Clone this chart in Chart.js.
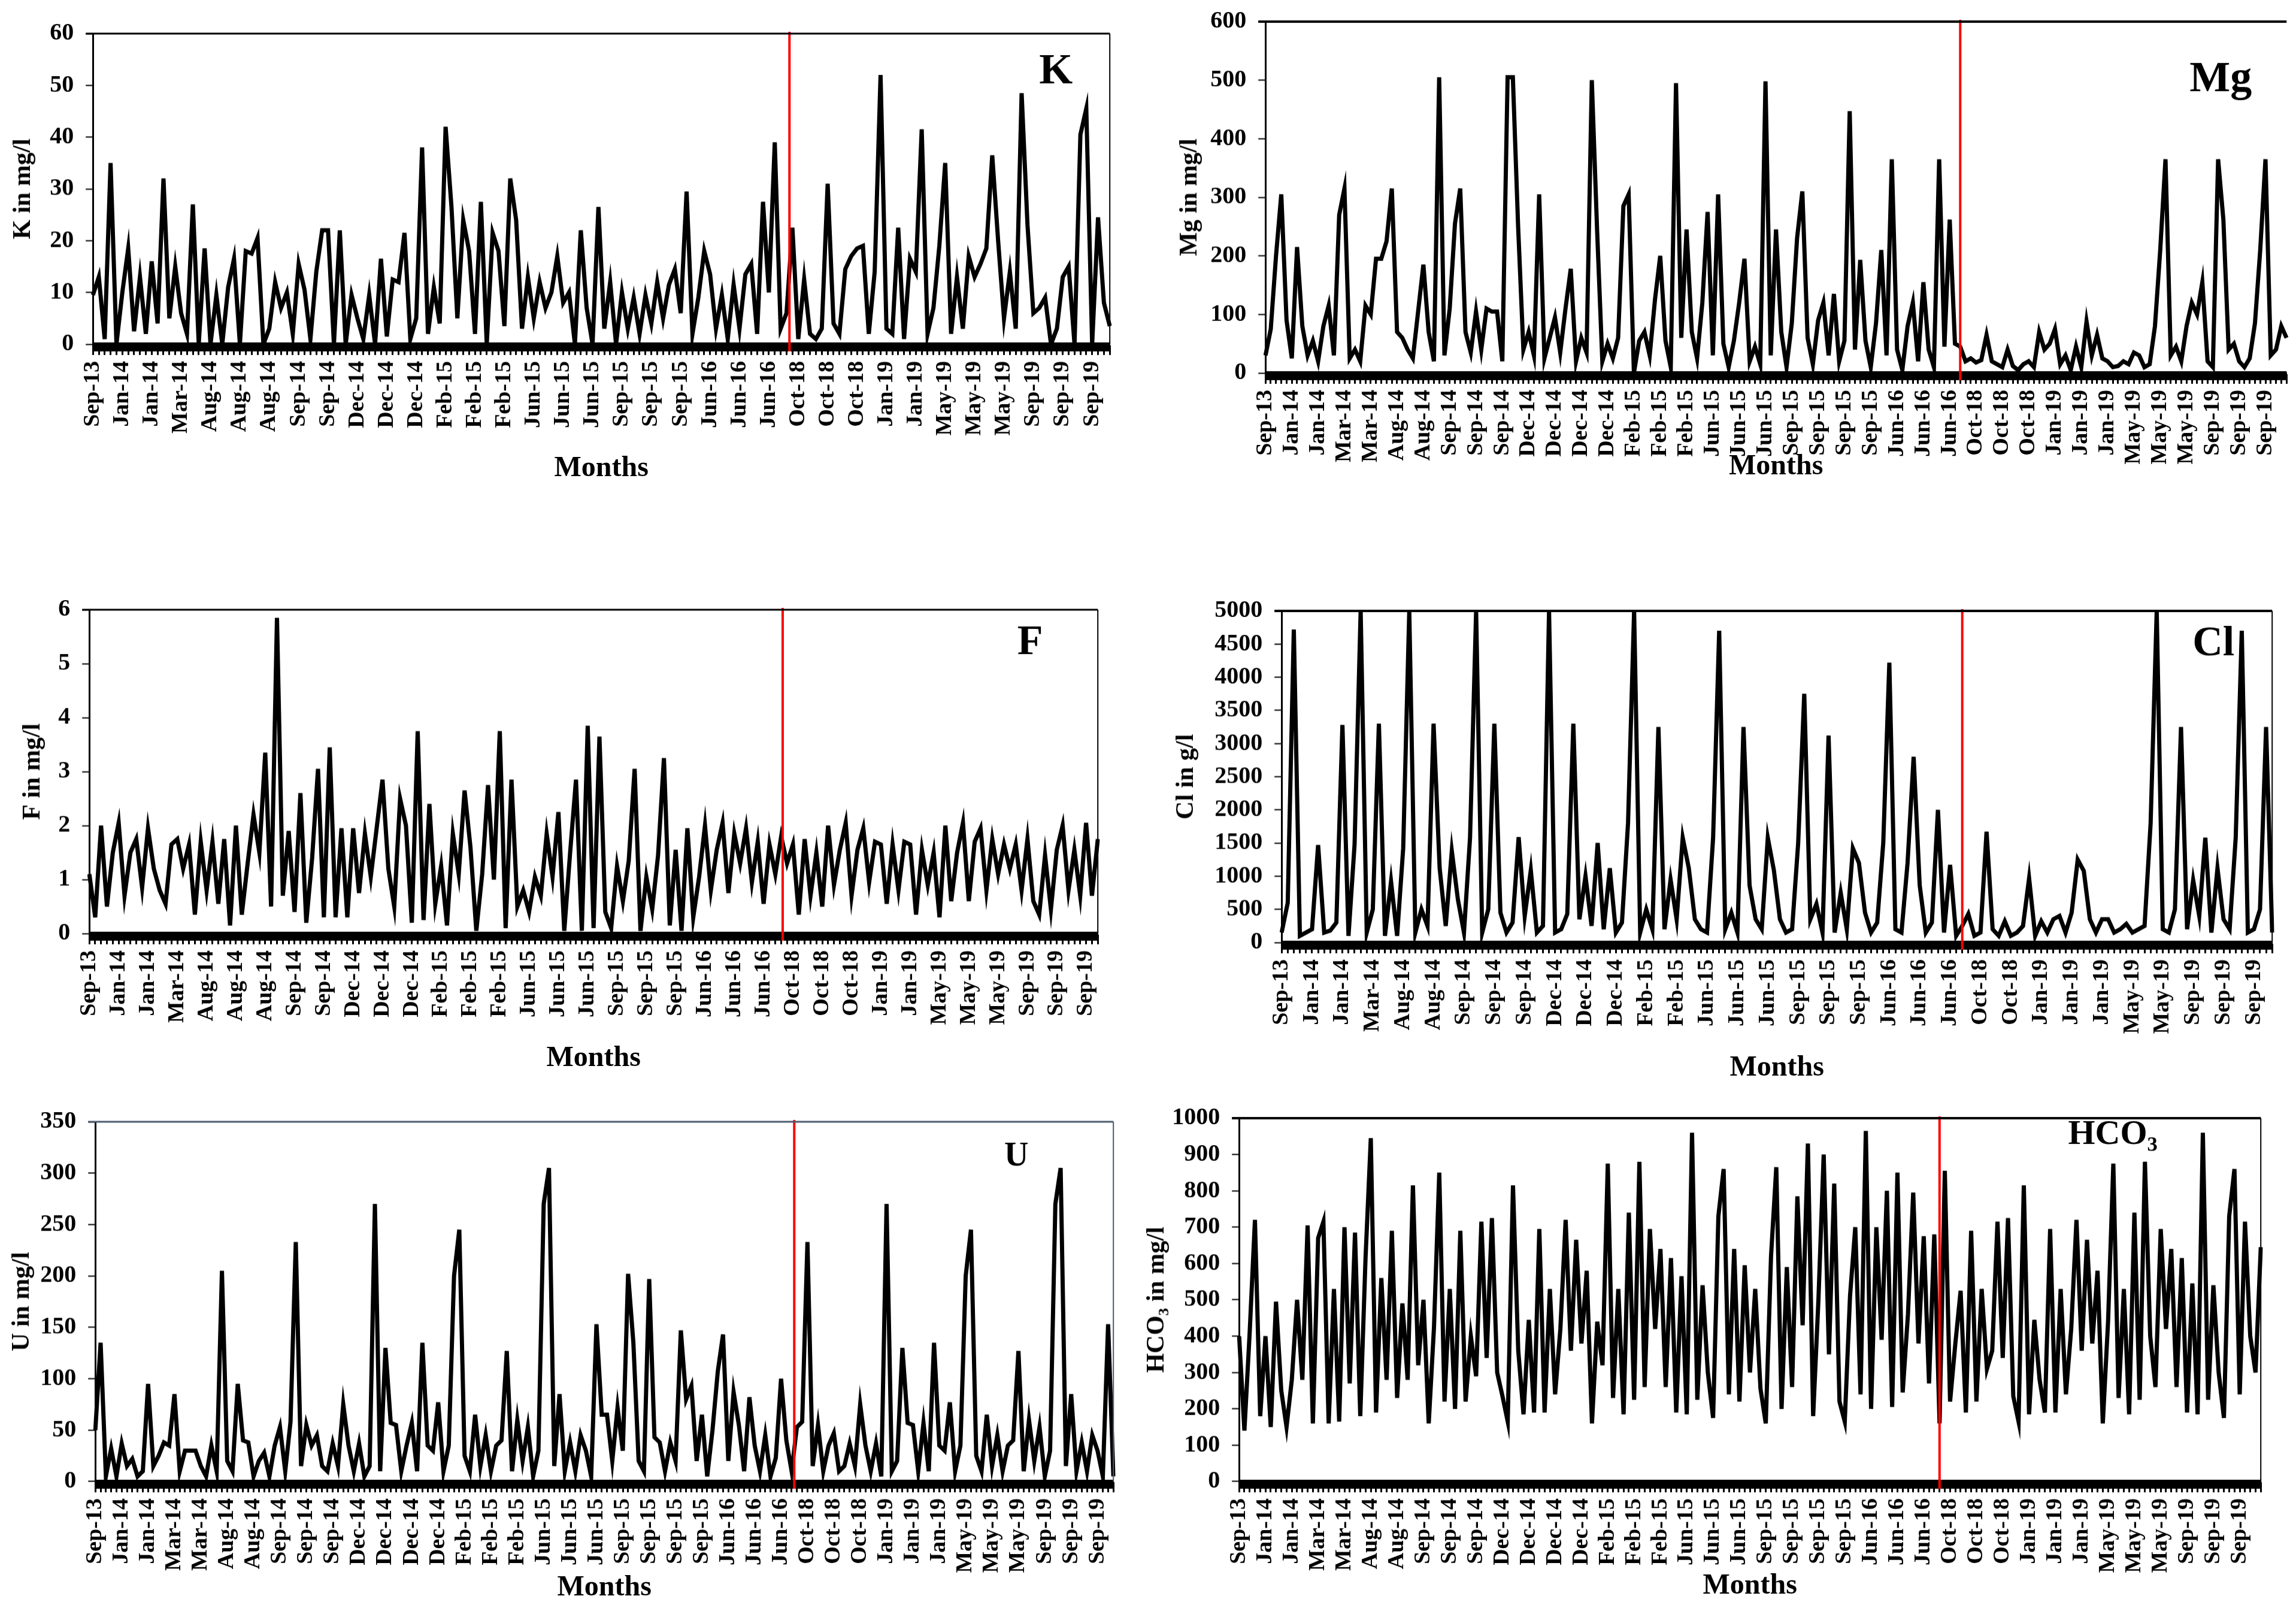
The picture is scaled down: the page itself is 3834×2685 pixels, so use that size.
<!DOCTYPE html>
<html>
<head>
<meta charset="utf-8">
<title>Monthly ion concentrations</title>
<script src="https://cdn.jsdelivr.net/npm/chart.js"></script>
<style>
  html, body { margin: 0; padding: 0; background: #fff; }
  body { width: 3834px; height: 2685px; position: relative; overflow: hidden; }
  .box { position: absolute; }
</style>
</head>
<body>
<div class="box" id="box-k"><canvas id="k-chart"></canvas></div>
<div class="box" id="box-mg"><canvas id="mg-chart"></canvas></div>
<div class="box" id="box-f"><canvas id="f-chart"></canvas></div>
<div class="box" id="box-cl"><canvas id="cl-chart"></canvas></div>
<div class="box" id="box-u"><canvas id="u-chart"></canvas></div>
<div class="box" id="box-hco3"><canvas id="hco3-chart"></canvas></div>

<script>
// month labels shown under the axis (one every 5 samples)
const ticksK = ['Sep-13','Jan-14','Jan-14','Mar-14','Aug-14','Aug-14','Aug-14','Sep-14','Sep-14',
  'Dec-14','Dec-14','Dec-14','Feb-15','Feb-15','Feb-15','Jun-15','Jun-15','Jun-15',
  'Sep-15','Sep-15','Sep-15','Jun-16','Jun-16','Jun-16','Oct-18','Oct-18','Oct-18',
  'Jan-19','Jan-19','May-19','May-19','May-19','Sep-19','Sep-19','Sep-19'];
const ticksLong = ['Sep-13','Jan-14','Jan-14','Mar-14','Mar-14','Aug-14','Aug-14','Sep-14','Sep-14','Sep-14',
  'Dec-14','Dec-14','Dec-14','Dec-14','Feb-15','Feb-15','Feb-15','Jun-15','Jun-15','Jun-15',
  'Sep-15','Sep-15','Sep-15','Sep-15','Jun-16','Jun-16','Jun-16','Oct-18','Oct-18','Oct-18',
  'Jan-19','Jan-19','Jan-19','May-19','May-19','May-19','Sep-19','Sep-19','Sep-19'];
const ticksCl = ['Sep-13','Jan-14','Jan-14','Mar-14','Aug-14','Aug-14','Sep-14','Sep-14','Sep-14',
  'Dec-14','Dec-14','Dec-14','Feb-15','Feb-15','Jun-15','Jun-15','Jun-15',
  'Sep-15','Sep-15','Sep-15','Jun-16','Jun-16','Jun-16','Oct-18','Oct-18',
  'Jan-19','Jan-19','Jan-19','May-19','May-19','Sep-19','Sep-19','Sep-19'];

// K in mg/l
const kValues = [9.5,13,1,35,0,10,18.5,2.5,13,2, 16,4,32,5,15,6,2,27,0,18.5,
  0,9.5,0,11,16.5,0,18,17.5,20.5,0, 3,12,7,10,2,15.5,10.5,1,14,22,
  22,0,22,0,9.5,5,1,9.5,0,16.5, 1.5,12.5,12,21.5,1,5,38,2,11,4,
  42,26.5,5,24,18,2,27.5,0,21.5,18, 3.5,32,24,3,13,5,12,7,10,17,
  8,10,0,22,7,0,26.5,3,12,0, 10,3,9,2,9.5,4,12,5,11.5,14.5,
  6,29.5,2,9,18,13.5,3,9.5,1,11.5, 3,13.5,15.5,2,27.5,10,39,3,6,22.5,
  1,12.5,2,1,3,31,4,2,14.5,17, 18.5,19,2,14,52,3,2,22.5,1,16.5,
  14,41.5,2,7,19,35,2,13,3,17, 13,15.5,18.5,36.5,20,5,14,3,48.5,23,
  6,7,9,0,3,13,15,0,40.5,45.5, 0,24.5,8,3.5];

// Mg in mg/l
const mgValues = [30,75,200,305,90,25,215,80,30,55, 20,80,115,30,270,315,25,40,20,115,
  100,195,195,225,315,70,60,40,25,105, 185,70,20,505,30,110,255,315,70,35,
  105,40,110,105,105,20,505,505,250,40, 70,30,305,25,60,95,35,110,178,20,
  60,35,500,245,20,50,25,60,285,305, 0,55,70,30,125,200,55,10,495,60,
  245,70,25,120,275,30,305,50,10,55, 120,195,20,45,15,498,30,245,70,10,
  85,230,310,60,15,90,120,30,135,20, 55,447,40,193,55,10,85,210,30,365,
  40,5,80,120,20,155,40,10,365,45, 262,50,45,20,25,18,22,65,20,15,
  10,40,12,5,15,20,10,70,40,50, 75,15,30,5,45,10,88,30,65,25,
  20,10,12,20,15,35,30,10,15,80, 210,365,30,45,20,80,120,100,155,20,
  10,365,262,40,50,20,10,25,85,210, 365,30,40,80,60];

// F in mg/l
const fValues = [1.1,0.3,2.0,0.5,1.5,2.05,0.7,1.5,1.75,0.85, 1.95,1.2,0.8,0.55,1.65,1.75,1.2,1.65,0.35,1.7,
  0.8,1.7,0.55,1.75,0.15,2.0,0.35,1.3,2.2,1.5, 3.35,0.5,5.85,0.7,1.9,0.4,2.6,0.2,1.4,3.05,
  0.3,3.45,0.3,1.95,0.3,1.95,0.75,1.85,1.05,1.95, 2.85,1.2,0.5,2.5,2.0,0.2,3.75,0.25,2.4,0.55,
  1.25,0.15,1.85,1.1,2.65,1.6,0.05,1.1,2.75,1.0, 3.75,0.1,2.85,0.5,0.8,0.4,1.05,0.7,1.85,1.05,
  2.25,0.05,1.5,2.85,0.05,3.85,0.1,3.65,0.4,0.1, 1.25,0.6,1.35,3.05,0.05,1.05,0.45,1.45,3.25,0.15,
  1.55,0.05,1.95,0.3,1.05,2.0,0.8,1.55,2.05,0.75, 1.85,1.3,1.95,0.95,1.7,0.55,1.65,1.1,1.8,1.3,
  1.65,0.35,1.75,0.7,1.5,0.5,2.0,0.9,1.55,2.05, 0.7,1.55,1.95,0.95,1.7,1.65,0.55,1.65,0.8,1.7,
  1.65,0.35,1.55,0.9,1.5,0.3,2.0,0.6,1.5,2.05, 0.6,1.7,1.95,0.8,1.75,1.1,1.65,1.2,1.65,0.8,
  1.75,0.6,0.35,1.45,0.45,1.55,2.0,0.8,1.55,0.7, 2.05,0.7,1.75];

// Cl in g/l
const clValues = [150,600,4720,100,150,200,1470,150,180,300, 3280,100,1480,5000,150,500,3300,100,920,100,
  1420,5000,150,500,250,3300,1120,250,1380,650, 150,1580,5000,150,500,3300,450,150,300,1590,
  400,1090,150,250,5000,150,200,430,3300,350, 1000,250,1500,200,1120,150,300,1800,5000,150,
  500,200,3250,200,950,350,1580,1120,350,200, 150,1580,4700,200,450,150,3250,860,350,200,
  1580,1090,350,150,200,1500,3750,350,580,150, 3120,150,750,200,1420,1200,450,150,300,1500,
  4220,200,150,1200,2800,860,150,300,2000,150, 1170,100,250,430,100,150,1670,200,100,320,
  100,150,250,970,100,320,150,350,400,150, 450,1250,1080,350,150,350,350,150,200,280,
  150,200,250,1800,5000,200,150,500,3250,200, 940,400,1580,150,1120,350,200,1580,4700,150,
  200,500,3250,150];

// U in mg/l
const uValues = [50,135,5,32,5,37,15,22,5,10, 95,15,25,38,35,85,10,30,30,30,
  15,5,35,10,205,20,10,95,40,38, 5,20,28,5,35,53,10,58,233,15,
  55,35,45,15,10,37,15,75,35,10, 37,5,15,270,10,130,57,55,10,35,
  57,10,135,35,30,77,10,35,200,245, 25,10,65,15,45,10,35,40,127,10,
  60,20,53,5,30,270,305,15,85,10, 38,10,45,30,5,153,65,65,20,72,
  30,202,135,20,10,197,43,38,10,38, 20,147,80,93,20,65,5,50,107,143,
  20,87,55,10,82,35,10,45,5,23, 100,40,10,53,58,233,15,55,10,35,
  47,10,15,37,15,75,35,10,37,5, 270,10,20,130,57,55,10,57,10,135,
  35,30,77,10,35,200,245,25,10,65, 15,45,10,35,40,127,10,60,20,53,
  5,30,270,305,15,85,10,38,10,45, 30,5,153,5];

// HCO3 in mg/l
const hco3Values = [400,140,410,720,180,400,150,495,250,150, 280,500,280,705,160,670,715,160,530,165,
  700,270,685,180,615,945,190,560,280,690, 230,490,280,815,320,500,160,425,850,220,
  530,200,690,220,400,290,715,340,725,300, 235,165,815,360,185,445,190,695,190,530,
  240,420,720,360,665,380,580,160,440,320, 875,230,530,185,740,225,880,260,695,420,
  640,260,615,190,565,185,960,225,540,300, 175,730,860,240,640,220,595,300,530,255,
  160,620,865,200,590,260,785,430,930,180, 500,900,350,820,220,165,510,700,240,965,
  200,700,390,800,205,850,245,460,795,380, 675,270,680,160,855,220,380,525,190,690,
  220,530,310,360,715,340,725,235,165,815, 185,445,280,190,695,190,530,240,420,720,
  360,665,380,580,160,440,875,230,530,185, 740,225,880,400,260,695,420,640,260,615,
  190,545,185,960,225,540,300,175,730,860, 240,715,400,300,645];

const SERIF = "'Liberation Serif', 'Times New Roman', serif";
const Y_TITLE_SIZE = 42;
const X_TITLE_SIZE = 48;
const PAD_TOP = 60;
const PAD_RIGHT = 70;

// page placement of each panel (plot box, title centres, panel letter)
const panels = [
  { id: 'k', values: kValues, ticks: ticksK, yMax: 60, yStep: 10, yTitle: 'K in mg/l', letter: 'K',
    split: 118.5, plot: [155, 56, 1853, 574], yTitleX: 39, monthsY: 782,
    letterAt: [1763, 120], letterSize: 72, frame: '#000', topWidth: 3, rightEdge: true },
  { id: 'mg', values: mgValues, ticks: ticksLong, yMax: 600, yStep: 100, yTitle: 'Mg in mg/l', letter: 'Mg',
    split: 132, plot: [2113, 36, 3818, 622], yTitleX: 1987, monthsY: 779,
    letterAt: [3708, 133], letterSize: 72, frame: '#000', topWidth: 4, rightEdge: false },
  { id: 'f', values: fValues, ticks: ticksK, yMax: 6, yStep: 1, yTitle: 'F in mg/l', letter: 'F',
    split: 118.25, plot: [149, 1018, 1833, 1558], yTitleX: 55, monthsY: 1767,
    letterAt: [1720, 1074], letterSize: 70, frame: '#000', topWidth: 3, rightEdge: true },
  { id: 'cl', values: clValues, ticks: ticksCl, yMax: 5000, yStep: 500, yTitle: 'Cl in g/l', letter: 'Cl',
    split: 112, plot: [2140, 1020, 3794, 1573], yTitleX: 1981, monthsY: 1783,
    letterAt: [3696, 1076], letterSize: 70, frame: '#000', topWidth: 4, rightEdge: true },
  { id: 'u', values: uValues, ticks: ticksLong, yMax: 350, yStep: 50, yTitle: 'U in mg/l', letter: 'U',
    split: 132.5, plot: [159, 1873, 1859, 2473], yTitleX: 37, monthsY: 2651,
    letterAt: [1697, 1932], letterSize: 56, frame: '#4A5A6E', topWidth: 3, rightEdge: true },
  { id: 'hco3', values: hco3Values, ticks: ticksLong, yMax: 1000, yStep: 100, yTitle: 'HCO\u2083 in mg/l', letter: 'HCO\u2083',
    split: 133, plot: [2069, 1867, 3775, 2473], yTitleX: 1932, monthsY: 2648,
    letterAt: [3528, 1895], letterSize: 58, frame: '#000', topWidth: 4, rightEdge: true }
];

function drawPanel(p) {
  const [pl, pt, pr, pb] = p.plot;
  const boxLeft = p.yTitleX - Y_TITLE_SIZE * 0.6;
  const boxTop = pt - PAD_TOP;
  const boxRight = pr + PAD_RIGHT;
  const boxBottom = p.monthsY + X_TITLE_SIZE * 0.6;
  const yWidth = pl - boxLeft;
  const xHeight = boxBottom - pb;

  const box = document.getElementById('box-' + p.id);
  box.style.left = boxLeft + 'px';
  box.style.top = boxTop + 'px';
  box.style.width = (boxRight - boxLeft) + 'px';
  box.style.height = (boxBottom - boxTop) + 'px';

  const labels = p.values.map((v, i) => (i % 5 === 0 ? (p.ticks[i / 5] || '') : ''));

  // red divider, heavy base band, top/right frame and the panel letter
  const overlay = {
    id: 'overlay-' + p.id,
    afterDraw(chart) {
      const { ctx, chartArea } = chart;
      ctx.save();
      ctx.fillStyle = '#000';
      ctx.fillRect(chartArea.left, chartArea.bottom - 3, chartArea.right - chartArea.left, 15);

      const x = chart.scales.x.getPixelForValue(p.split);
      ctx.strokeStyle = '#FF0000';
      ctx.lineWidth = 4;
      ctx.beginPath();
      ctx.moveTo(x, chartArea.top - 3);
      ctx.lineTo(x, chartArea.bottom + 12);
      ctx.stroke();

      ctx.strokeStyle = p.frame;
      ctx.lineWidth = p.topWidth;
      ctx.beginPath();
      ctx.moveTo(chartArea.left - 12, chartArea.top);
      ctx.lineTo(chartArea.right, chartArea.top);
      ctx.stroke();
      if (p.rightEdge) {
        ctx.lineWidth = 2;
        ctx.beginPath();
        ctx.moveTo(chartArea.right, chartArea.top);
        ctx.lineTo(chartArea.right, chartArea.bottom);
        ctx.stroke();
      }
      ctx.fillStyle = '#000';
      ctx.font = 'bold ' + p.letterSize + 'px ' + SERIF;
      ctx.textAlign = 'center';
      ctx.textBaseline = 'middle';
      ctx.fillText(p.letter, p.letterAt[0] - boxLeft, p.letterAt[1] - boxTop);
      ctx.restore();
    }
  };

  new Chart(document.getElementById(p.id + '-chart'), {
    type: 'line',
    data: {
      labels: labels,
      datasets: [{
        data: p.values,
        borderColor: '#000',
        borderWidth: 7,
        pointRadius: 0,
        tension: 0,
        fill: false
      }]
    },
    options: {
      responsive: true,
      maintainAspectRatio: false,
      animation: false,
      layout: { padding: { top: PAD_TOP, right: PAD_RIGHT, left: 0, bottom: 0 } },
      plugins: { legend: { display: false }, tooltip: { enabled: false } },
      scales: {
        x: {
          ticks: {
            autoSkip: false, maxRotation: 90, minRotation: 90, padding: 10,
            color: '#000', font: { family: SERIF, size: 38, weight: 'bold' }
          },
          grid: {
            display: true, drawOnChartArea: false, drawTicks: true,
            tickLength: 18, tickWidth: 3, color: '#000'
          },
          border: { display: true, color: '#000', width: 3 },
          title: {
            display: true, text: 'Months', color: '#000', padding: 0,
            font: { family: SERIF, size: X_TITLE_SIZE, weight: 'bold', lineHeight: 1.2 }
          },
          afterFit: s => { s.height = xHeight; }
        },
        y: {
          min: 0,
          max: p.yMax,
          ticks: {
            stepSize: p.yStep, padding: 20, color: '#000',
            font: { family: SERIF, size: 40, weight: 'bold' },
            callback: v => String(v)
          },
          grid: { drawOnChartArea: false, tickLength: 12, tickWidth: 2, color: '#000' },
          border: { display: true, color: '#000', width: 3 },
          title: {
            display: true, text: p.yTitle, color: '#000', padding: 0,
            font: { family: SERIF, size: Y_TITLE_SIZE, weight: 'bold', lineHeight: 1.2 }
          },
          afterFit: s => { s.width = yWidth; }
        }
      }
    },
    plugins: [overlay]
  });
}

panels.forEach(drawPanel);
</script>
</body>
</html>
